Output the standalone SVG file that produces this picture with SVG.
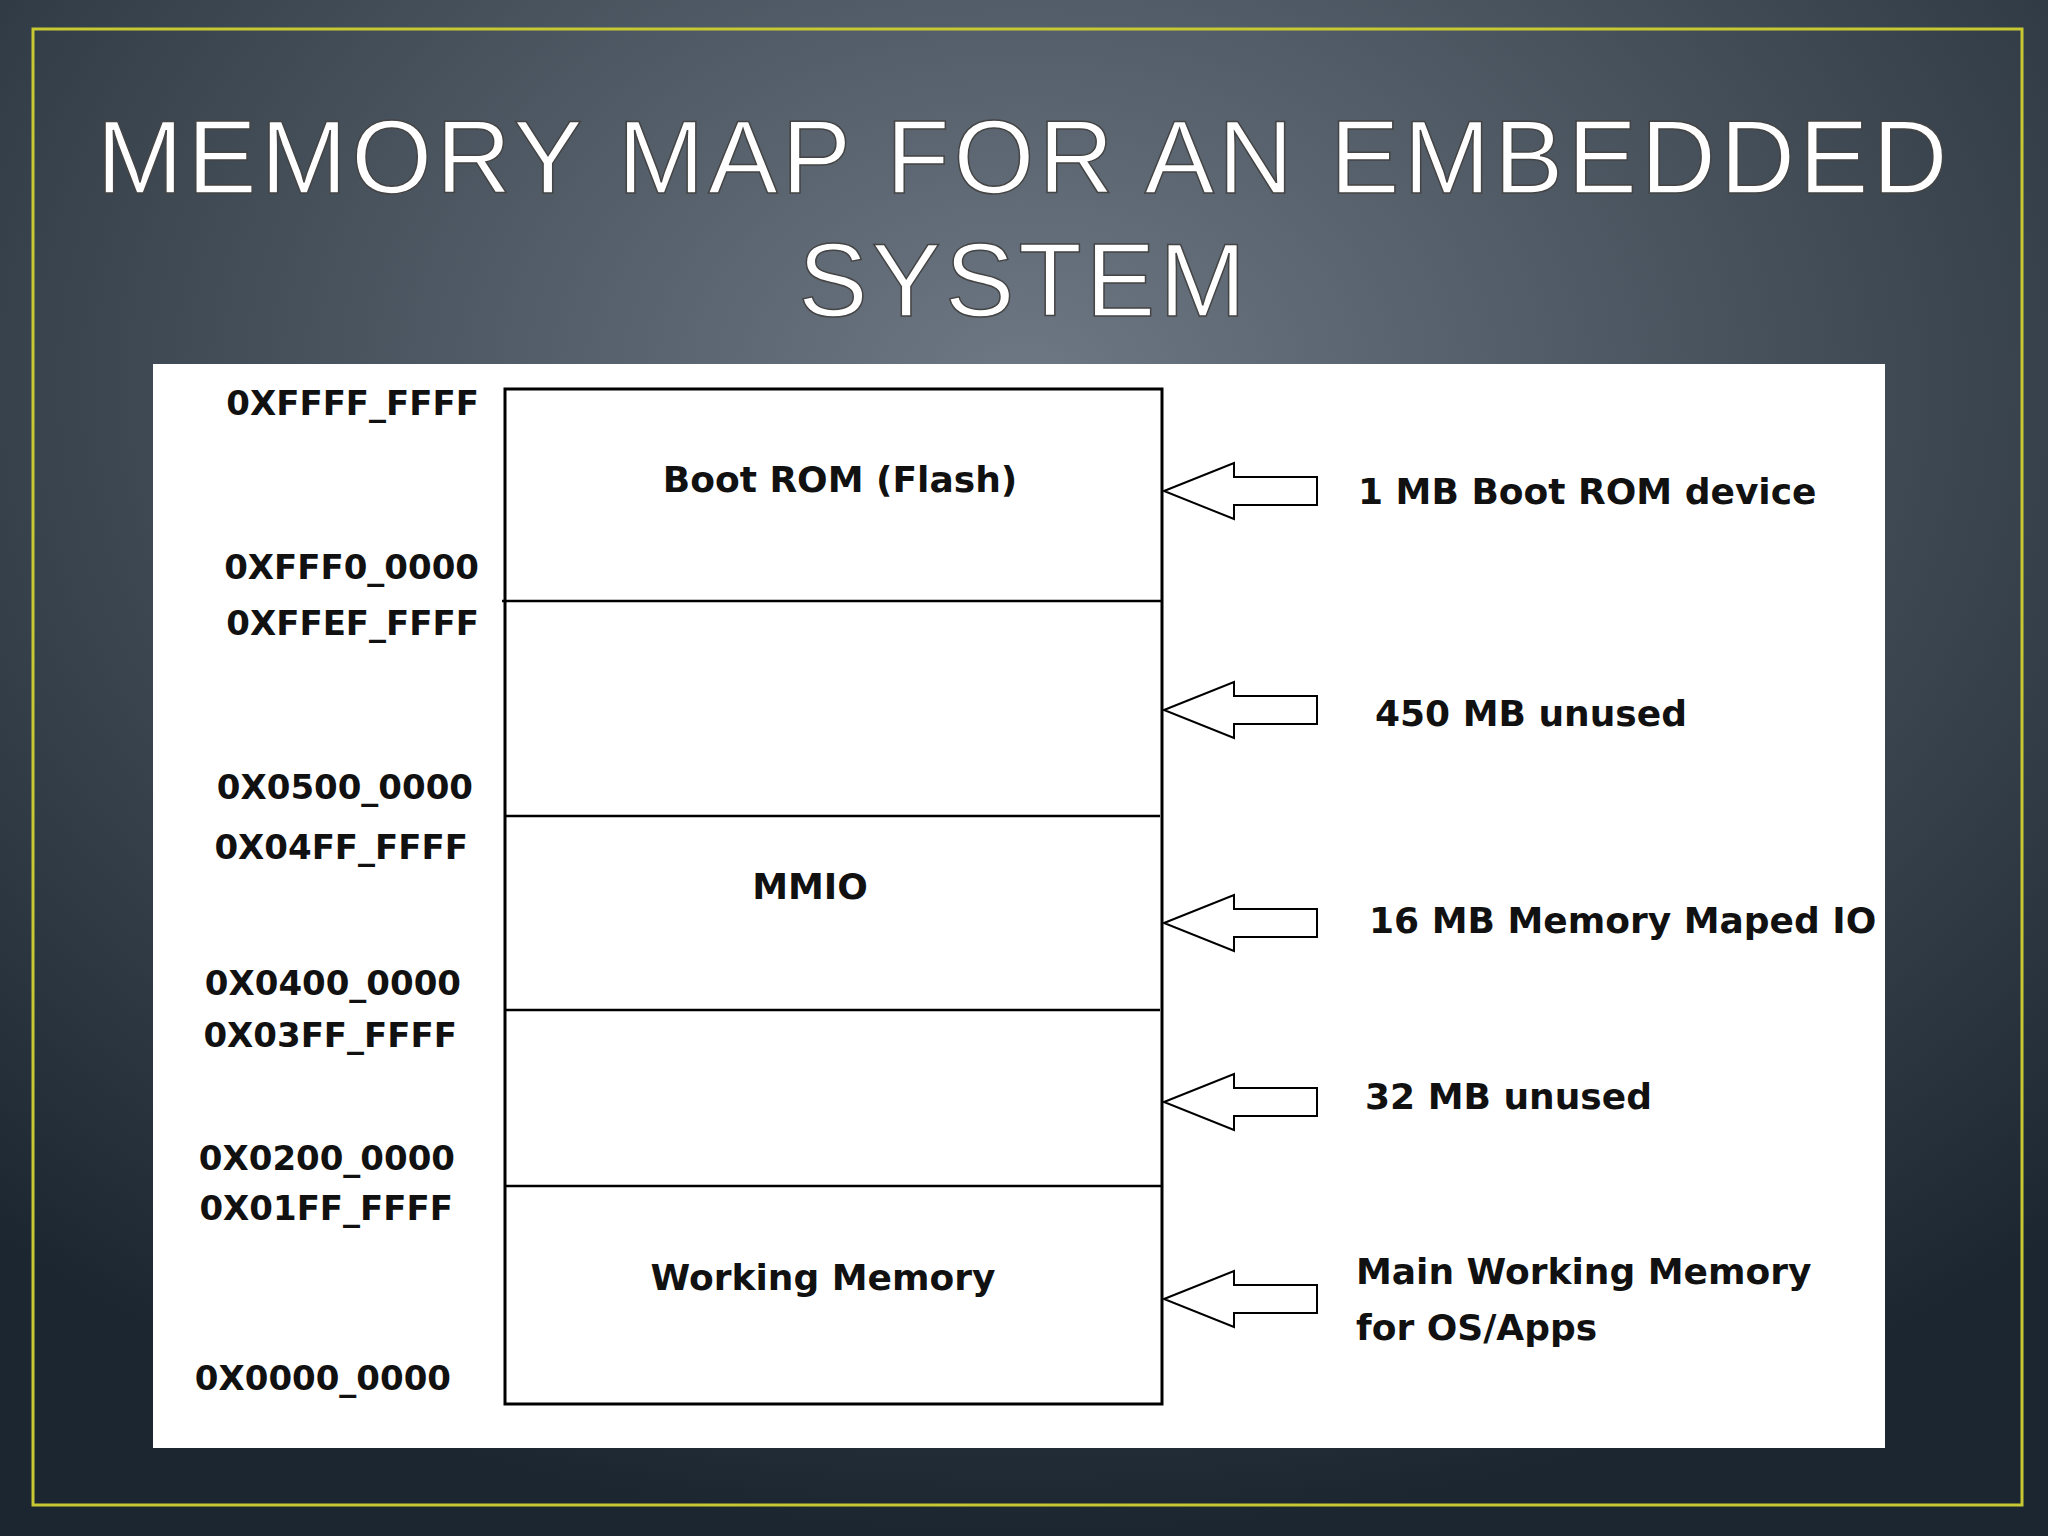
<svg xmlns="http://www.w3.org/2000/svg" width="2048" height="1536" viewBox="0 0 2048 1536">
<defs>
<radialGradient id="bg" cx="50%" cy="25%" r="75%">
<stop offset="0" stop-color="#6e7884"/><stop offset="1" stop-color="#1c2630"/>
</radialGradient>
<polygon id="arr" points="0,0 70,-28 70,-14 153,-14 153,14 70,14 70,28" fill="#fff" stroke="#000" stroke-width="2"/>
</defs>
<style>
.t{font-family:"Liberation Sans",Arial,sans-serif;font-size:104px;fill:#fff;text-anchor:middle;letter-spacing:4px;stroke:#444;stroke-width:1.5px}
.a{font-family:"DejaVu Sans",Verdana,sans-serif;font-weight:bold;font-size:34px;fill:#111;text-anchor:end}
.l{font-family:"DejaVu Sans",Verdana,sans-serif;font-weight:bold;font-size:36px;fill:#111}
.c{text-anchor:middle}
</style>
<rect width="2048" height="1536" fill="url(#bg)"/>
<rect x="33" y="29" width="1989" height="1476" fill="none" stroke="#c8c832" stroke-width="3"/>
<text class="t" x="1024" y="193">MEMORY MAP FOR AN EMBEDDED</text>
<text class="t" x="1024" y="316">SYSTEM</text>
<rect x="153" y="364" width="1732" height="1084" fill="#fff"/>
<g id="memory">
<rect x="505" y="389" width="657" height="1015" fill="#fff" stroke="#000" stroke-width="3"/>
<line x1="502" y1="601" x2="1162" y2="601" stroke="#000" stroke-width="2.5"/>
<line x1="505" y1="816" x2="1160" y2="816" stroke="#000" stroke-width="2.5"/>
<line x1="505" y1="1010" x2="1160" y2="1010" stroke="#000" stroke-width="2.5"/>
<line x1="505" y1="1186" x2="1162" y2="1186" stroke="#000" stroke-width="2.5"/>
<text class="l c" x="840" y="492">Boot ROM (Flash)</text>
<text class="l c" x="810" y="899">MMIO</text>
<text class="l c" x="823" y="1290">Working Memory</text>
</g>
<g id="addresses">
<text class="a" x="479" y="415">0XFFFF_FFFF</text>
<text class="a" x="479" y="579">0XFFF0_0000</text>
<text class="a" x="479" y="635">0XFFEF_FFFF</text>
<text class="a" x="473" y="799">0X0500_0000</text>
<text class="a" x="468" y="859">0X04FF_FFFF</text>
<text class="a" x="461" y="995">0X0400_0000</text>
<text class="a" x="457" y="1047">0X03FF_FFFF</text>
<text class="a" x="455" y="1170">0X0200_0000</text>
<text class="a" x="453" y="1220">0X01FF_FFFF</text>
<text class="a" x="451" y="1390">0X0000_0000</text>
</g>
<g id="connectors">
<use href="#arr" x="1164" y="491"/>
<use href="#arr" x="1164" y="710" transform="translate(0,0)"/>
<use href="#arr" x="1164" y="923"/>
<use href="#arr" x="1164" y="1102"/>
<use href="#arr" x="1164" y="1299"/>
</g>
<g id="descriptions">
<text class="l" x="1358" y="504">1 MB Boot ROM device</text>
<text class="l" x="1375" y="726">450 MB unused</text>
<text class="l" x="1369" y="933">16 MB Memory Maped IO</text>
<text class="l" x="1365" y="1109">32 MB unused</text>
<text class="l" x="1356" y="1284">Main Working Memory</text>
<text class="l" x="1356" y="1340">for OS/Apps</text>
</g>
</svg>
